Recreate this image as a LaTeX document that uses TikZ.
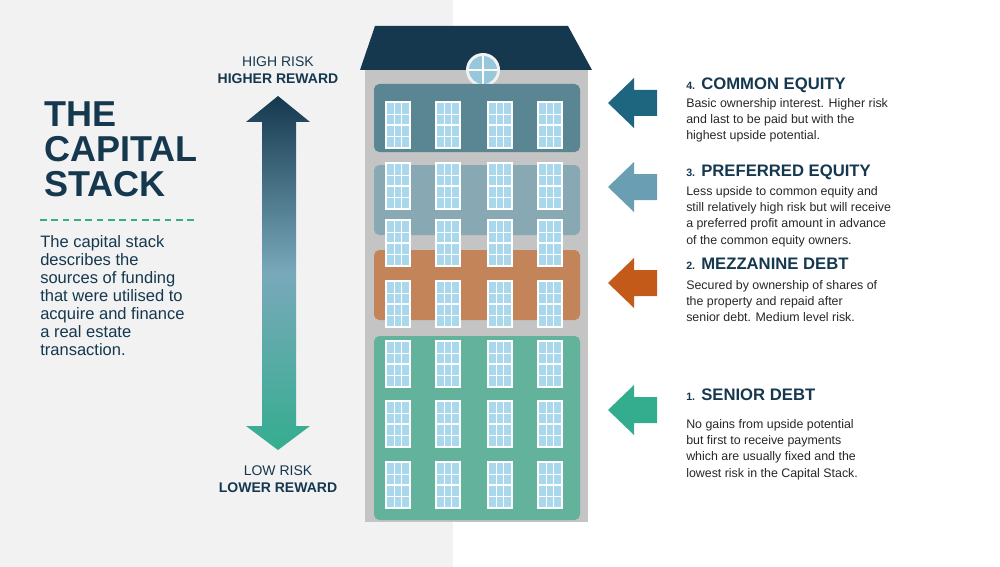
\documentclass[tikz,border=0pt]{standalone}
\usepackage{fontspec}
\setmainfont{Liberation Sans}
\usetikzlibrary{positioning}
\definecolor{navy}{HTML}{15384F}
\definecolor{bandA}{HTML}{5A8593}
\definecolor{bandB}{HTML}{88A9B3}
\definecolor{bandC}{HTML}{C4845A}
\definecolor{bandD}{HTML}{63B39C}
\definecolor{arrA}{HTML}{1E6680}
\definecolor{arrB}{HTML}{6A9FB3}
\definecolor{arrC}{HTML}{C35A1A}
\definecolor{arrD}{HTML}{34AD8F}
\definecolor{glass}{HTML}{A9D8EC}
\definecolor{wall}{HTML}{C4C4C4}
\definecolor{leftbg}{HTML}{F2F2F2}
\tikzset{
  band/.style={rounded corners=4pt},
  head/.style={anchor=north west,inner sep=0pt,font=\bfseries\fontsize{12.5}{14}\selectfont,text=navy},
  body/.style={anchor=north west,inner sep=0pt,align=left,font=\fontsize{9.3}{12.2}\selectfont,text=black!85},
  risk/.style={inner sep=0pt,font=\fontsize{10.5}{12.5}\selectfont,text=navy,align=center},
  win/.pic={
    \fill[white] (-13,-24) rectangle (13,24);
    \fill[glass] (-11,-22) rectangle (11,22);
    \draw[white,line width=1.5pt] (-11,0) -- (11,0);
    \draw[white,line width=0.5pt] (-3.7,-22) -- (-3.7,22) (3.7,-22) -- (3.7,22)
      (-11,-11) -- (11,-11) (-11,11) -- (11,11);
  }
}
\newcommand\sidearrow[3]{% colour, y centre, name
  \fill[#1] (608,#2) -- (634,#2-25) -- (634,#2-13) -- (657,#2-13) -- (657,#2+13)
    -- (634,#2+13) -- (634,#2+25) -- cycle;
  \coordinate (#3) at (657,#2);
}
\begin{document}
\begin{tikzpicture}[x=0.75pt,y=-0.75pt]
  \useasboundingbox (0,0) rectangle (1000,567);
  \fill[leftbg] (0,0) rectangle (453,567);
  % building
  \fill[wall] (365,70) rectangle (588,522);
  \fill[navy] (375,26) -- (568,26) -- (592,70) -- (360,70) -- cycle;
  \fill[white!90!gray] (483,70) circle (17);
  \fill[glass!70!arrB] (483,70) circle (14);
  \draw[white,line width=1pt] (469,70) -- (497,70) (483,56) -- (483,84);
  \fill[bandA,band] (374,84) rectangle (580,152);
  \fill[bandB,band] (374,165) rectangle (580,235);
  \fill[bandC,band] (374,250) rectangle (580,320);
  \fill[bandD,band] (374,336) rectangle (580,520);
  \foreach \y in {125,186,243,304,364,424,485}
    \foreach \x in {398,448,500,550}
      \pic at (\x,\y) {win};
  % risk arrow
  \shade[top color=navy,bottom color=arrD,middle color=arrB!90!white]
    (278,96) -- (310,122) -- (296,122) -- (296,426) -- (310,426) -- (278,450)
    -- (246,426) -- (262,426) -- (262,122) -- (246,122) -- cycle;
  \node[risk] (high) at (278,70) {HIGH RISK\\\textbf{HIGHER REWARD}};
  \node[risk] (low) at (278,479) {LOW RISK\\\textbf{LOWER REWARD}};
  % title
  \node[anchor=north west,inner sep=0pt,align=left,text=navy,
    font=\bfseries\fontsize{27}{26.5}\selectfont] (title) at (44,101) {THE\\CAPITAL\\STACK};
  \draw[arrD,dashed,line width=1pt,dash pattern=on 5pt off 3.5pt] (40,220) -- (197,220);
  \node[anchor=north west,inner sep=0pt,align=left,text=navy,
    font=\fontsize{12.4}{13.5}\selectfont] (desc) at (40,235)
    {The capital stack\\describes the\\sources of funding\\that were utilised to\\acquire and finance\\a real estate\\transaction.};
  % tiers
  \sidearrow{arrA}{103}{a4}
  \sidearrow{arrB}{187}{a3}
  \sidearrow{arrC}{283}{a2}
  \sidearrow{arrD}{410}{a1}
  \node[head] (h4) at (686,78) {{\fontsize{8}{9}\selectfont 4.} COMMON EQUITY};
  \node[body] (t4) at (686,98) {Basic ownership interest. Higher risk\\and last to be paid but with the\\highest upside potential.};
  \node[head] (h3) at (686,165) {{\fontsize{8}{9}\selectfont 3.} PREFERRED EQUITY};
  \node[body] (t3) at (686,186) {Less upside to common equity and\\still relatively high risk but will receive\\a preferred profit amount in advance\\of the common equity owners.};
  \node[head] (h2) at (686,258) {{\fontsize{8}{9}\selectfont 2.} MEZZANINE DEBT};
  \node[body] (t2) at (686,280) {Secured by ownership of shares of\\the property and repaid after\\senior debt. Medium level risk.};
  \node[head] (h1) at (686,389) {{\fontsize{8}{9}\selectfont 1.} SENIOR DEBT};
  \node[body] (t1) at (686,419) {No gains from upside potential\\but first to receive payments\\which are usually fixed and the\\lowest risk in the Capital Stack.};
\end{tikzpicture}
\end{document}
